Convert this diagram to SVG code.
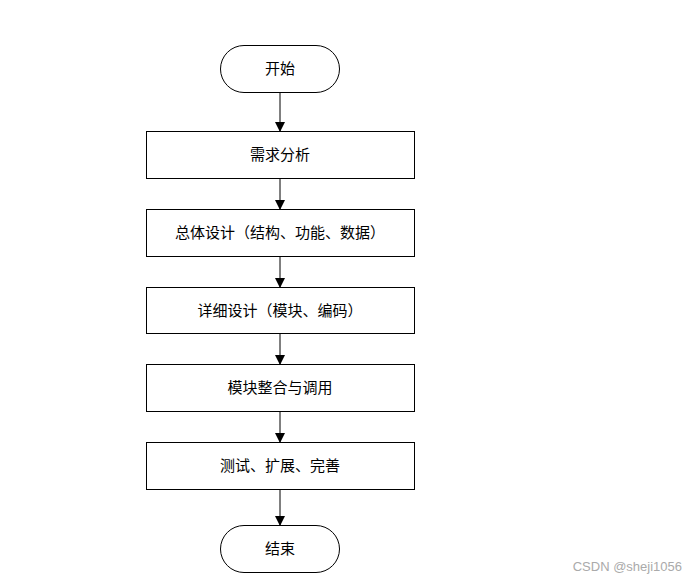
<svg xmlns="http://www.w3.org/2000/svg" width="698" height="584" viewBox="0 0 698 584">
<style>
.s{fill:#fff;stroke:#000;stroke-width:1}
.t{font-family:"Liberation Sans","Noto Sans CJK SC",sans-serif;font-size:15px;text-anchor:middle;fill:#000}
.c{stroke:#000;stroke-width:1;fill:none;marker-end:url(#a)}
</style>
<defs><marker id="a" markerWidth="10" markerHeight="10" refX="9" refY="5" orient="auto" markerUnits="userSpaceOnUse"><path d="M0,0 L10,5 L0,10 Z" fill="#000"/></marker></defs>
<rect width="698" height="584" fill="#fff"/>
<g id="connectors">
<line class="c" x1="280" y1="92" x2="280" y2="131"/>
<line class="c" x1="280" y1="178" x2="280" y2="209"/>
<line class="c" x1="280" y1="256" x2="280" y2="287"/>
<line class="c" x1="280" y1="333" x2="280" y2="364"/>
<line class="c" x1="280" y1="411" x2="280" y2="442"/>
<line class="c" x1="280" y1="489" x2="280" y2="525"/>
</g>
<g id="start"><rect class="s" x="220.5" y="45.5" width="119" height="47" rx="23.5"/><text class="t" x="280" y="74">开始</text></g>
<g id="n1"><rect class="s" x="146.5" y="131.5" width="268" height="47"/><text class="t" x="280" y="160">需求分析</text></g>
<g id="n2"><rect class="s" x="146.5" y="209.5" width="268" height="47"/><text class="t" x="280" y="238">总体设计（结构、功能、数据）</text></g>
<g id="n3"><rect class="s" x="146.5" y="287.5" width="268" height="46"/><text class="t" x="280" y="316">详细设计（模块、编码）</text></g>
<g id="n4"><rect class="s" x="146.5" y="364.5" width="268" height="47"/><text class="t" x="280" y="393">模块整合与调用</text></g>
<g id="n5"><rect class="s" x="146.5" y="442.5" width="268" height="47"/><text class="t" x="280" y="471">测试、扩展、完善</text></g>
<g id="end"><rect class="s" x="220.5" y="525.5" width="119" height="47" rx="23.5"/><text class="t" x="280" y="554">结束</text></g>
<text x="682" y="571" style="font-family:'Liberation Sans',sans-serif;font-size:13px;fill:#aaa;text-anchor:end">CSDN @sheji1056</text>
</svg>
